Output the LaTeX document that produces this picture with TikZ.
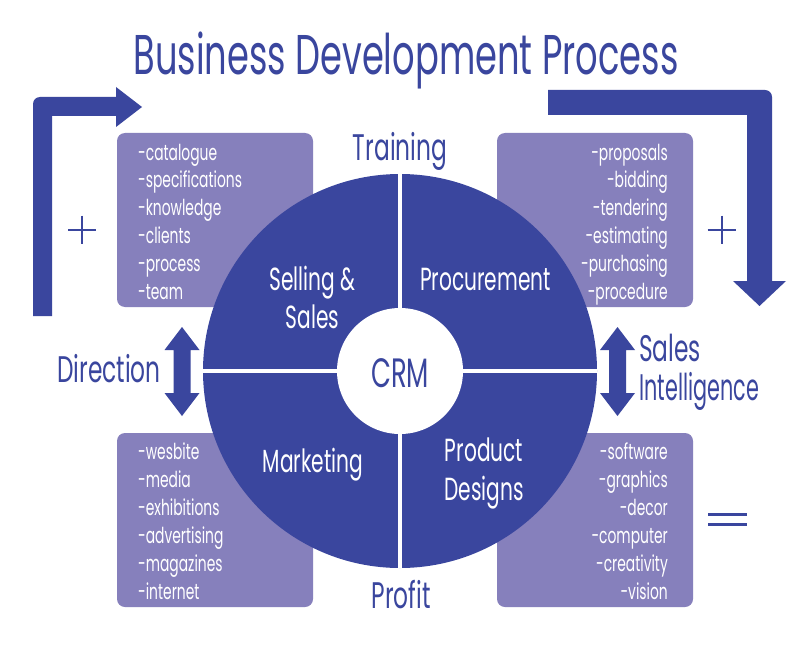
\documentclass[tikz,border=0pt]{standalone}
\usepackage{fontspec}
\newfontfamily\ff[FakeStretch=0.63]{Poppins}
\definecolor{dblue}{RGB}{58,70,158}
\definecolor{lpurp}{RGB}{134,128,188}
\begin{document}
\begin{tikzpicture}[x=1pt,y=-1pt,
  ttl/.style={font=\ff\fontsize{56}{60}\selectfont, text=dblue, inner sep=0pt},
  lab/.style={font=\ff\fontsize{37}{40}\selectfont, text=dblue, inner sep=0pt},
  seg/.style={font=\ff\fontsize{32}{36}\selectfont, text=white, inner sep=0pt},
  crm/.style={font=\ff\fontsize{41}{44}\selectfont, text=dblue, inner sep=0pt},
  item/.style={font=\ff\fontsize{22}{26}\selectfont, text=white, inner sep=0pt},
  listbox/.style={fill=lpurp, rounded corners=8pt},
  arrowshape/.style={fill=dblue},
  sym/.style={draw=dblue, line width=2pt},
  divider/.style={draw=white, line width=3.5pt}]
\useasboundingbox (0,0) rectangle (800,650);
\fill[white] (0,0) rectangle (800,650);

% title
\node[ttl, anchor=base] (title) at (406,75) {Business Development Process};

% bent arrows
\fill[arrowshape] (33,316) [rounded corners=7pt] -- (33,97) [sharp corners] -- (116,97) -- (116,87) -- (142,107) -- (116,127) -- (116,116) -- (52,116) -- (52,316) -- cycle;
\fill[arrowshape] (548,90) [rounded corners=7pt] -- (772,90) [sharp corners] -- (772,281) -- (786,281) -- (759.5,306) -- (733,281) -- (747,281) -- (747,115) -- (548,115) -- cycle;

% list boxes
\fill[listbox] (117,133) rectangle (313,307);
\fill[listbox] (497,133) rectangle (693,307);
\fill[listbox] (117,433) rectangle (313,607);
\fill[listbox] (497,433) rectangle (693,607);

% main circle
\fill[dblue] (400,371) circle (197pt);
\draw[divider] (400,174) -- (400,568);
\draw[divider] (203,371) -- (597,371);
\fill[white] (400,371) circle (63pt);

% double arrows
\fill[arrowshape] (182,327) -- (199.5,350) -- (190.5,350) -- (190.5,393) -- (199.5,393) -- (182,416) -- (164.5,393) -- (173.5,393) -- (173.5,350) -- (164.5,350) -- cycle;
\fill[arrowshape] (617.5,327) -- (635,350) -- (626,350) -- (626,393) -- (635,393) -- (617.5,416) -- (600,393) -- (609,393) -- (609,350) -- (600,350) -- cycle;

% plus and equals
\draw[sym] (68,229.5) -- (96,229.5) (82,215.5) -- (82,243.5);
\draw[sym] (707.5,229.5) -- (735.5,229.5) (721.5,215.5) -- (721.5,243.5);
\draw[sym, line width=2.5pt] (708,514.5) -- (747,514.5) (708,524.5) -- (747,524.5);

% outer labels
\node[lab, anchor=base] (training) at (400,160) {Training};
\node[lab, anchor=base] (profit) at (401,608) {Profit};
\node[lab, anchor=base] (direction) at (109,382) {Direction};
\node[lab, anchor=base west] (sales) at (639,361) {Sales};
\node[lab, anchor=base west] (intel) at (639,400) {\scalebox{0.89}[1]{Intelligence}};

% segment labels
\node[seg, anchor=base] (sell1) at (312.5,290) {Selling \&};
\node[seg, anchor=base] (sell2) at (312.5,328) {Sales};
\node[seg, anchor=base] (proc) at (485.5,290) {Procurement};
\node[seg, anchor=base] (mkt) at (313,472) {Marketing};
\node[seg, anchor=base] (prod1) at (484,461) {Product};
\node[seg, anchor=base] (prod2) at (484,500) {Designs};
\node[crm, anchor=base] (crm) at (400,387) {CRM};

% lists
\foreach \t [count=\i] in {-catalogue,-specifications,-knowledge,-clients,-process,-team}
  \node[item, anchor=base west] (tl\i) at (138,{160+27.8*(\i-1)}) {\t};
\foreach \t [count=\i] in {-proposals,-bidding,-tendering,-estimating,-purchasing,-procedure}
  \node[item, anchor=base east] (tr\i) at (668,{160+27.8*(\i-1)}) {\t};
\foreach \t [count=\i] in {-wesbite,-media,-exhibitions,-advertising,-magazines,-internet}
  \node[item, anchor=base west] (bl\i) at (138,{459+28*(\i-1)}) {\t};
\foreach \t [count=\i] in {-software,-graphics,-decor,-computer,-creativity,-vision}
  \node[item, anchor=base east] (br\i) at (668,{459+28*(\i-1)}) {\t};
\end{tikzpicture}
\end{document}
